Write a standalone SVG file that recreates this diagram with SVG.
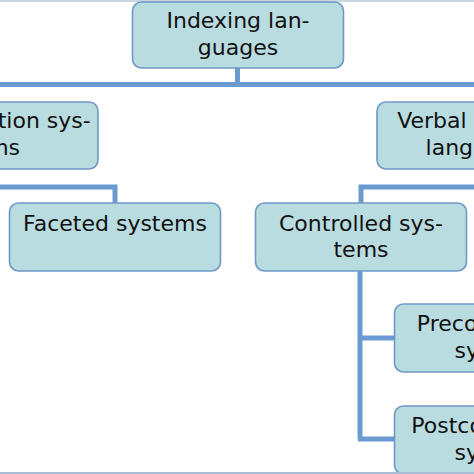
<svg xmlns="http://www.w3.org/2000/svg" width="474" height="474" viewBox="0 0 474 474">
<style>
.node rect{fill:#b9dce1;stroke:#6f98c6;stroke-width:1.6}
.node text{font-family:"DejaVu Sans",Verdana,sans-serif;font-size:22px;fill:#111;text-anchor:middle}
.conn{fill:none;stroke:#6a9ad0;stroke-width:5}
</style>
<rect x="0" y="0" width="474" height="474" fill="#fff"/>
<rect x="0" y="0" width="474" height="2" fill="#c9d7e5"/>
<g id="connectors">
<path class="conn" d="M237.5,68 V84.5 M0,84.5 H474"/>
<path class="conn" d="M0,187 H115 V203"/>
<path class="conn" d="M474,187 H361 V203"/>
<path class="conn" d="M360,271 V439 M358,338 H394 M358,439 H394"/>
</g>
<g id="n-indexing" class="node">
<rect x="132.5" y="2" width="211" height="66" rx="9"/>
<text x="238" y="28">Indexing lan-</text>
<text x="238" y="55">guages</text>
</g>
<g id="n-classification" class="node">
<rect x="-113" y="102" width="211" height="67" rx="9"/>
<text x="-7.5" y="128">Classification sys-</text>
<text x="-7.5" y="155">tems</text>
</g>
<g id="n-verbal" class="node">
<rect x="377" y="102" width="211" height="67" rx="9"/>
<text x="482.5" y="128">Verbal indexing</text>
<text x="482.5" y="155">languages</text>
</g>
<g id="n-faceted" class="node">
<rect x="9.5" y="203" width="211" height="68" rx="9"/>
<text x="115" y="231">Faceted systems</text>
</g>
<g id="n-controlled" class="node">
<rect x="255.5" y="203" width="211" height="68" rx="9"/>
<text x="361" y="231">Controlled sys-</text>
<text x="361" y="257">tems</text>
</g>
<g id="n-precoordinated" class="node">
<rect x="394.5" y="304" width="211" height="68" rx="9"/>
<text x="500" y="331">Precoordinated</text>
<text x="500" y="358">systems</text>
</g>
<g id="n-postcoordinated" class="node">
<rect x="394.5" y="406" width="211" height="68" rx="9"/>
<text x="500" y="433">Postcoordinated</text>
<text x="500" y="460">systems</text>
</g>
<rect x="0" y="472" width="474" height="2" fill="#a9bdd7"/>
</svg>
